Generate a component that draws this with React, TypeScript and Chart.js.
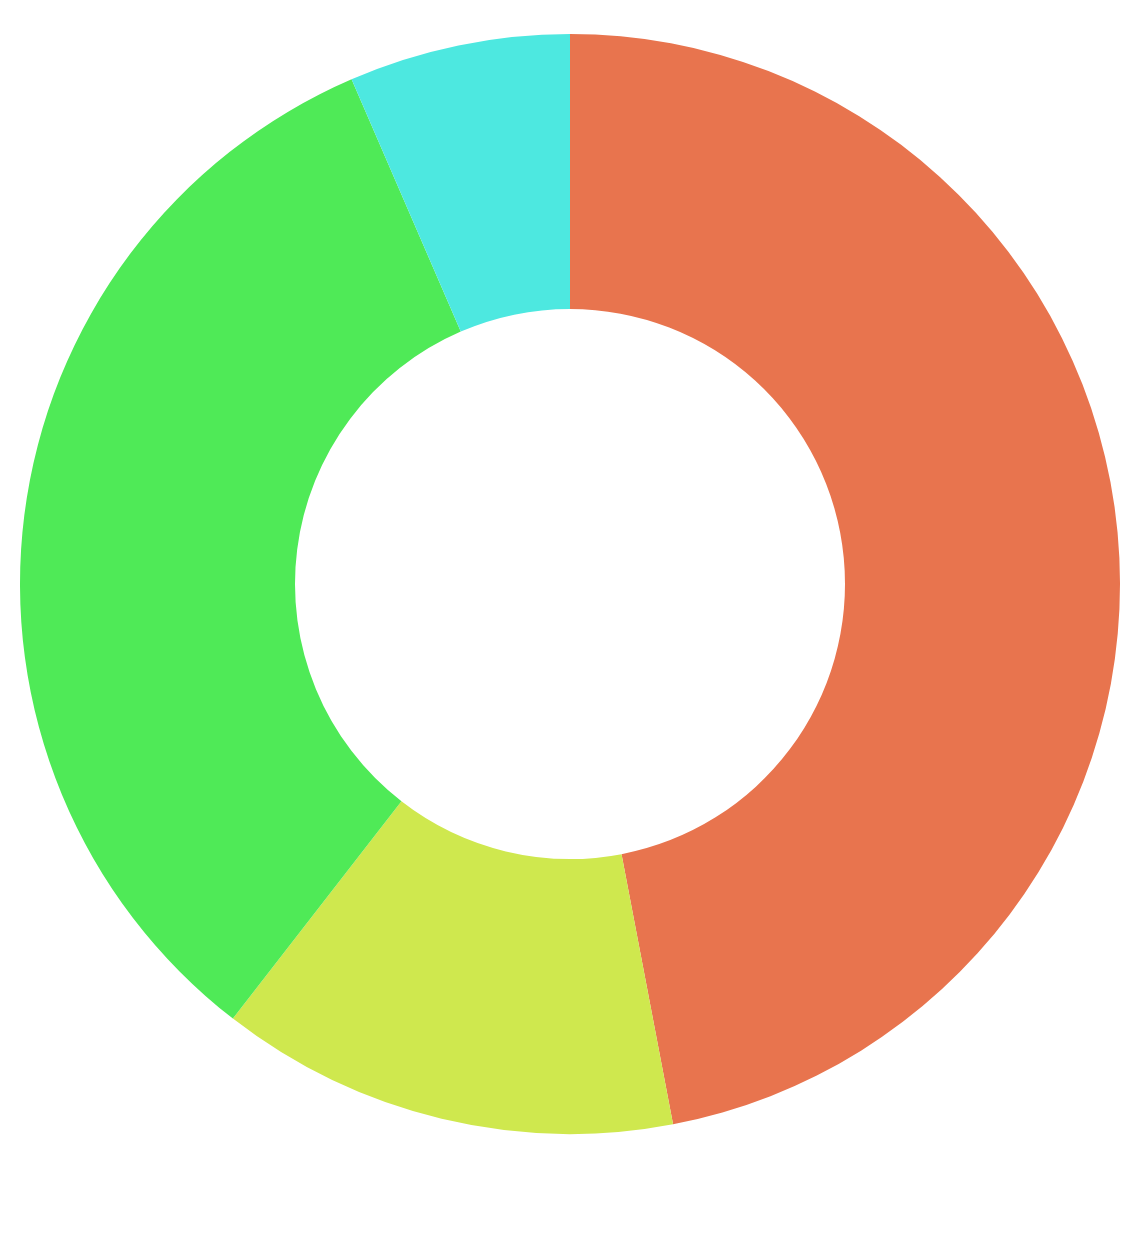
import React, { useEffect, useRef } from "react";
import { Chart, registerables } from "chart.js";

Chart.register(...registerables);

const categories = ["A", "B", "C", "D"];
const values = [47, 13.5, 33, 6.5];
const colors = ["#E8744E", "#CFE84E", "#4FEA57", "#4DE8E0"];

export default function App() {
  const ref = useRef<HTMLCanvasElement | null>(null);
  useEffect(() => {
    if (!ref.current) return;
    const chart = new Chart(ref.current, {
      type: "doughnut",
      data: {
        labels: categories,
        datasets: [
          {
            data: values,
            backgroundColor: colors,
            borderWidth: 0,
          },
        ],
      },
      options: {
        animation: false,
        responsive: true,
        maintainAspectRatio: false,
        cutout: "50%",
        layout: { padding: { top: 26, bottom: 34, left: 10, right: 14 } },
        plugins: {
          legend: { display: false },
          tooltip: { enabled: false },
        },
      },
    });
    return () => chart.destroy();
  }, []);
  return (
    <div style={{ width: 1128, height: 1160, position: "relative" }}>
      <canvas ref={ref} />
    </div>
  );
}
